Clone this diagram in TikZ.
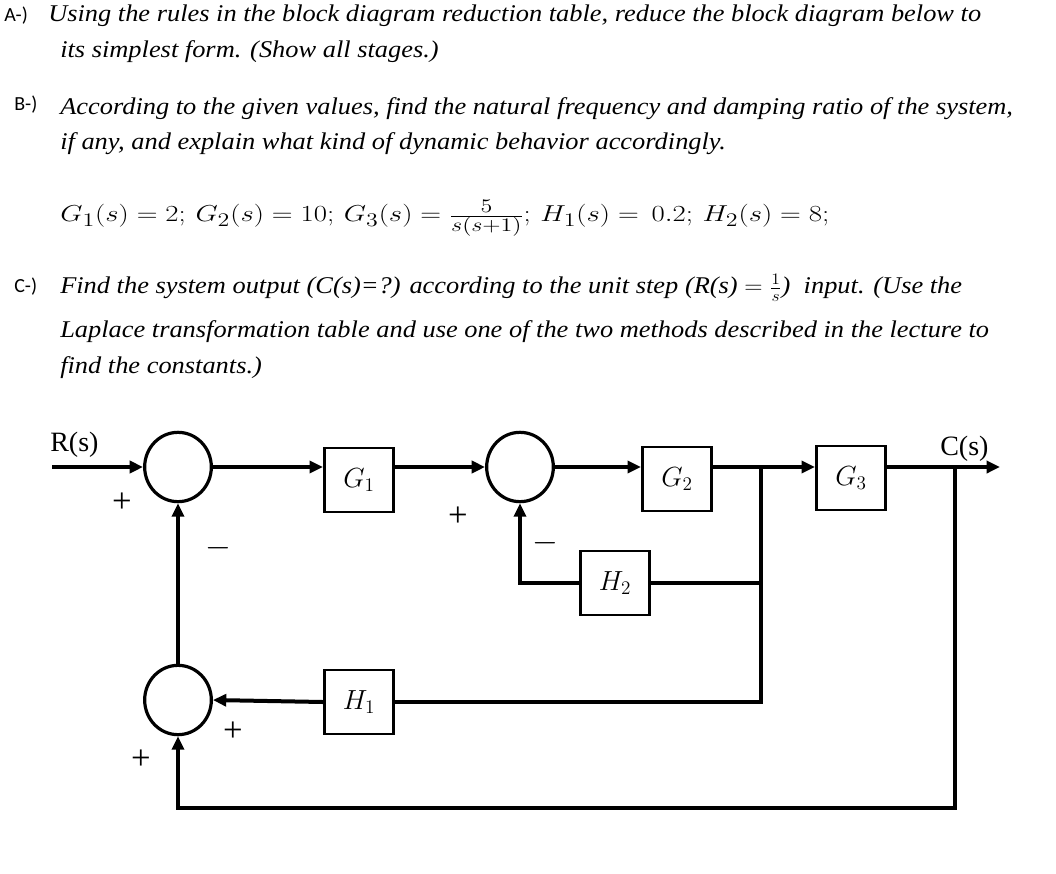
\documentclass[tikz,border=0pt]{standalone}
\usepackage{fontspec}
\setmainfont{Liberation Serif}
\newfontfamily\labfont{Carlito}
\usetikzlibrary{arrows.meta,shapes.geometric}
\newcommand{\wide}[1]{\scalebox{1.1}[1]{#1}}
\begin{document}
\begin{tikzpicture}[x=0.75pt,y=-0.75pt,
  sum/.style={draw,line width=2.4pt,ellipse,minimum width=50pt,minimum height=52pt,inner sep=0pt},
  blk/.style={draw,line width=2.2pt,minimum width=52pt,minimum height=48pt,font=\fontsize{22}{24}\selectfont},
  sig/.style={line width=3pt,-{Triangle[length=10pt,width=9pt]}},
  ln/.style={line width=3pt},
  txt/.style={anchor=west,inner sep=0pt,font=\fontsize{18}{20}\selectfont\itshape},
  lab/.style={anchor=west,inner sep=0pt,font=\labfont\fontsize{15}{17}\selectfont},
  pm/.style={font=\fontsize{26}{26}\selectfont,inner sep=0pt}]
\useasboundingbox (0,0) rectangle (1056,874);
% texts
\node[lab] (la) at (4,16) {A-)};
\node[txt] (ta1) at (48,16) {\wide{Using the rules in the block diagram reduction table, reduce the block diagram below to}};
\node[txt] (ta2) at (60,52) {\wide{its simplest form. (Show all stages.)}};
\node[lab] (lb) at (14,105) {B-)};
\node[txt] (tb1) at (60,109) {\wide{According to the given values, find the natural frequency and damping ratio of the system,}};
\node[txt] (tb2) at (60,144) {\wide{if any, and explain what kind of dynamic behavior accordingly.}};
\node[anchor=west,inner sep=0pt,font=\fontsize{19}{21}\selectfont] (eq) at (60,218)
 {\scalebox{1.25}[1]{$G_1(s)=2;\,G_2(s)=10;\,G_3(s)=\frac{5}{s(s+1)};\,H_1(s)=\,0.2;\,H_2(s)=8;$}};
\node[lab] (lc) at (14,287) {C-)};
\node[txt] (tc1) at (60,288) {\wide{Find the system output (C(s)=?) according to the unit step (R(s) $=\frac{1}{s}$)\ \ input. (Use the}};
\node[txt] (tc2) at (60,332) {\wide{Laplace transformation table and use one of the two methods described in the lecture to}};
\node[txt] (tc3) at (60,368) {\wide{find the constants.)}};
% diagram
\node[sum] (s1) at (178,467) {};
\node[sum] (s2) at (520,467) {};
\node[sum] (s3) at (178,700) {};
\node[blk] (g1) at (359,480) {$G_1$};
\node[blk] (g2) at (677,479) {$G_2$};
\node[blk] (g3) at (851,478) {$G_3$};
\node[blk] (h2) at (615,583) {$H_2$};
\node[blk] (h1) at (359,702) {$H_1$};
\coordinate (in) at (52,467);
\coordinate (out) at (1000,467);
\coordinate (b1) at (761,467);
\coordinate (b2) at (955,467);
\node[anchor=south west,inner sep=0pt,font=\fontsize{21}{22}\selectfont] (rs) at (50,458) {R(s)};
\node[anchor=south west,inner sep=0pt,font=\fontsize{21}{22}\selectfont] (cs) at (940,462) {C(s)};
\draw[sig] (in) -- (s1);
\draw[sig] (s1) -- (g1.west|-s1);
\draw[sig] (g1.east|-s1) -- (s2);
\draw[sig] (s2) -- (g2.west|-s2);
\draw[sig] (g2.east|-s2) -- (g3.west|-s2);
\draw[sig] (g3.east|-s2) -- (out);
\draw[ln] (b1) |- (h2.east);
\draw[sig] (h2.west) -| (s2.south);
\draw[ln] (b1) |- (h1.east);
\draw[sig] (h1.west) -- (s3.east);
\draw[sig] (b2) |- (178,808) -- (s3.south);
\draw[sig] (s3.north) -- (s1.south);
% signs
\node[pm] (p1) at (122,503) {+};
\node[pm] (m1) at (218,548) {$-$};
\node[pm] (p2) at (458,517) {+};
\node[pm] (m2) at (545,543) {$-$};
\node[pm] (p3) at (233,732) {+};
\node[pm] (p4) at (141,760) {+};
\end{tikzpicture}
\end{document}
